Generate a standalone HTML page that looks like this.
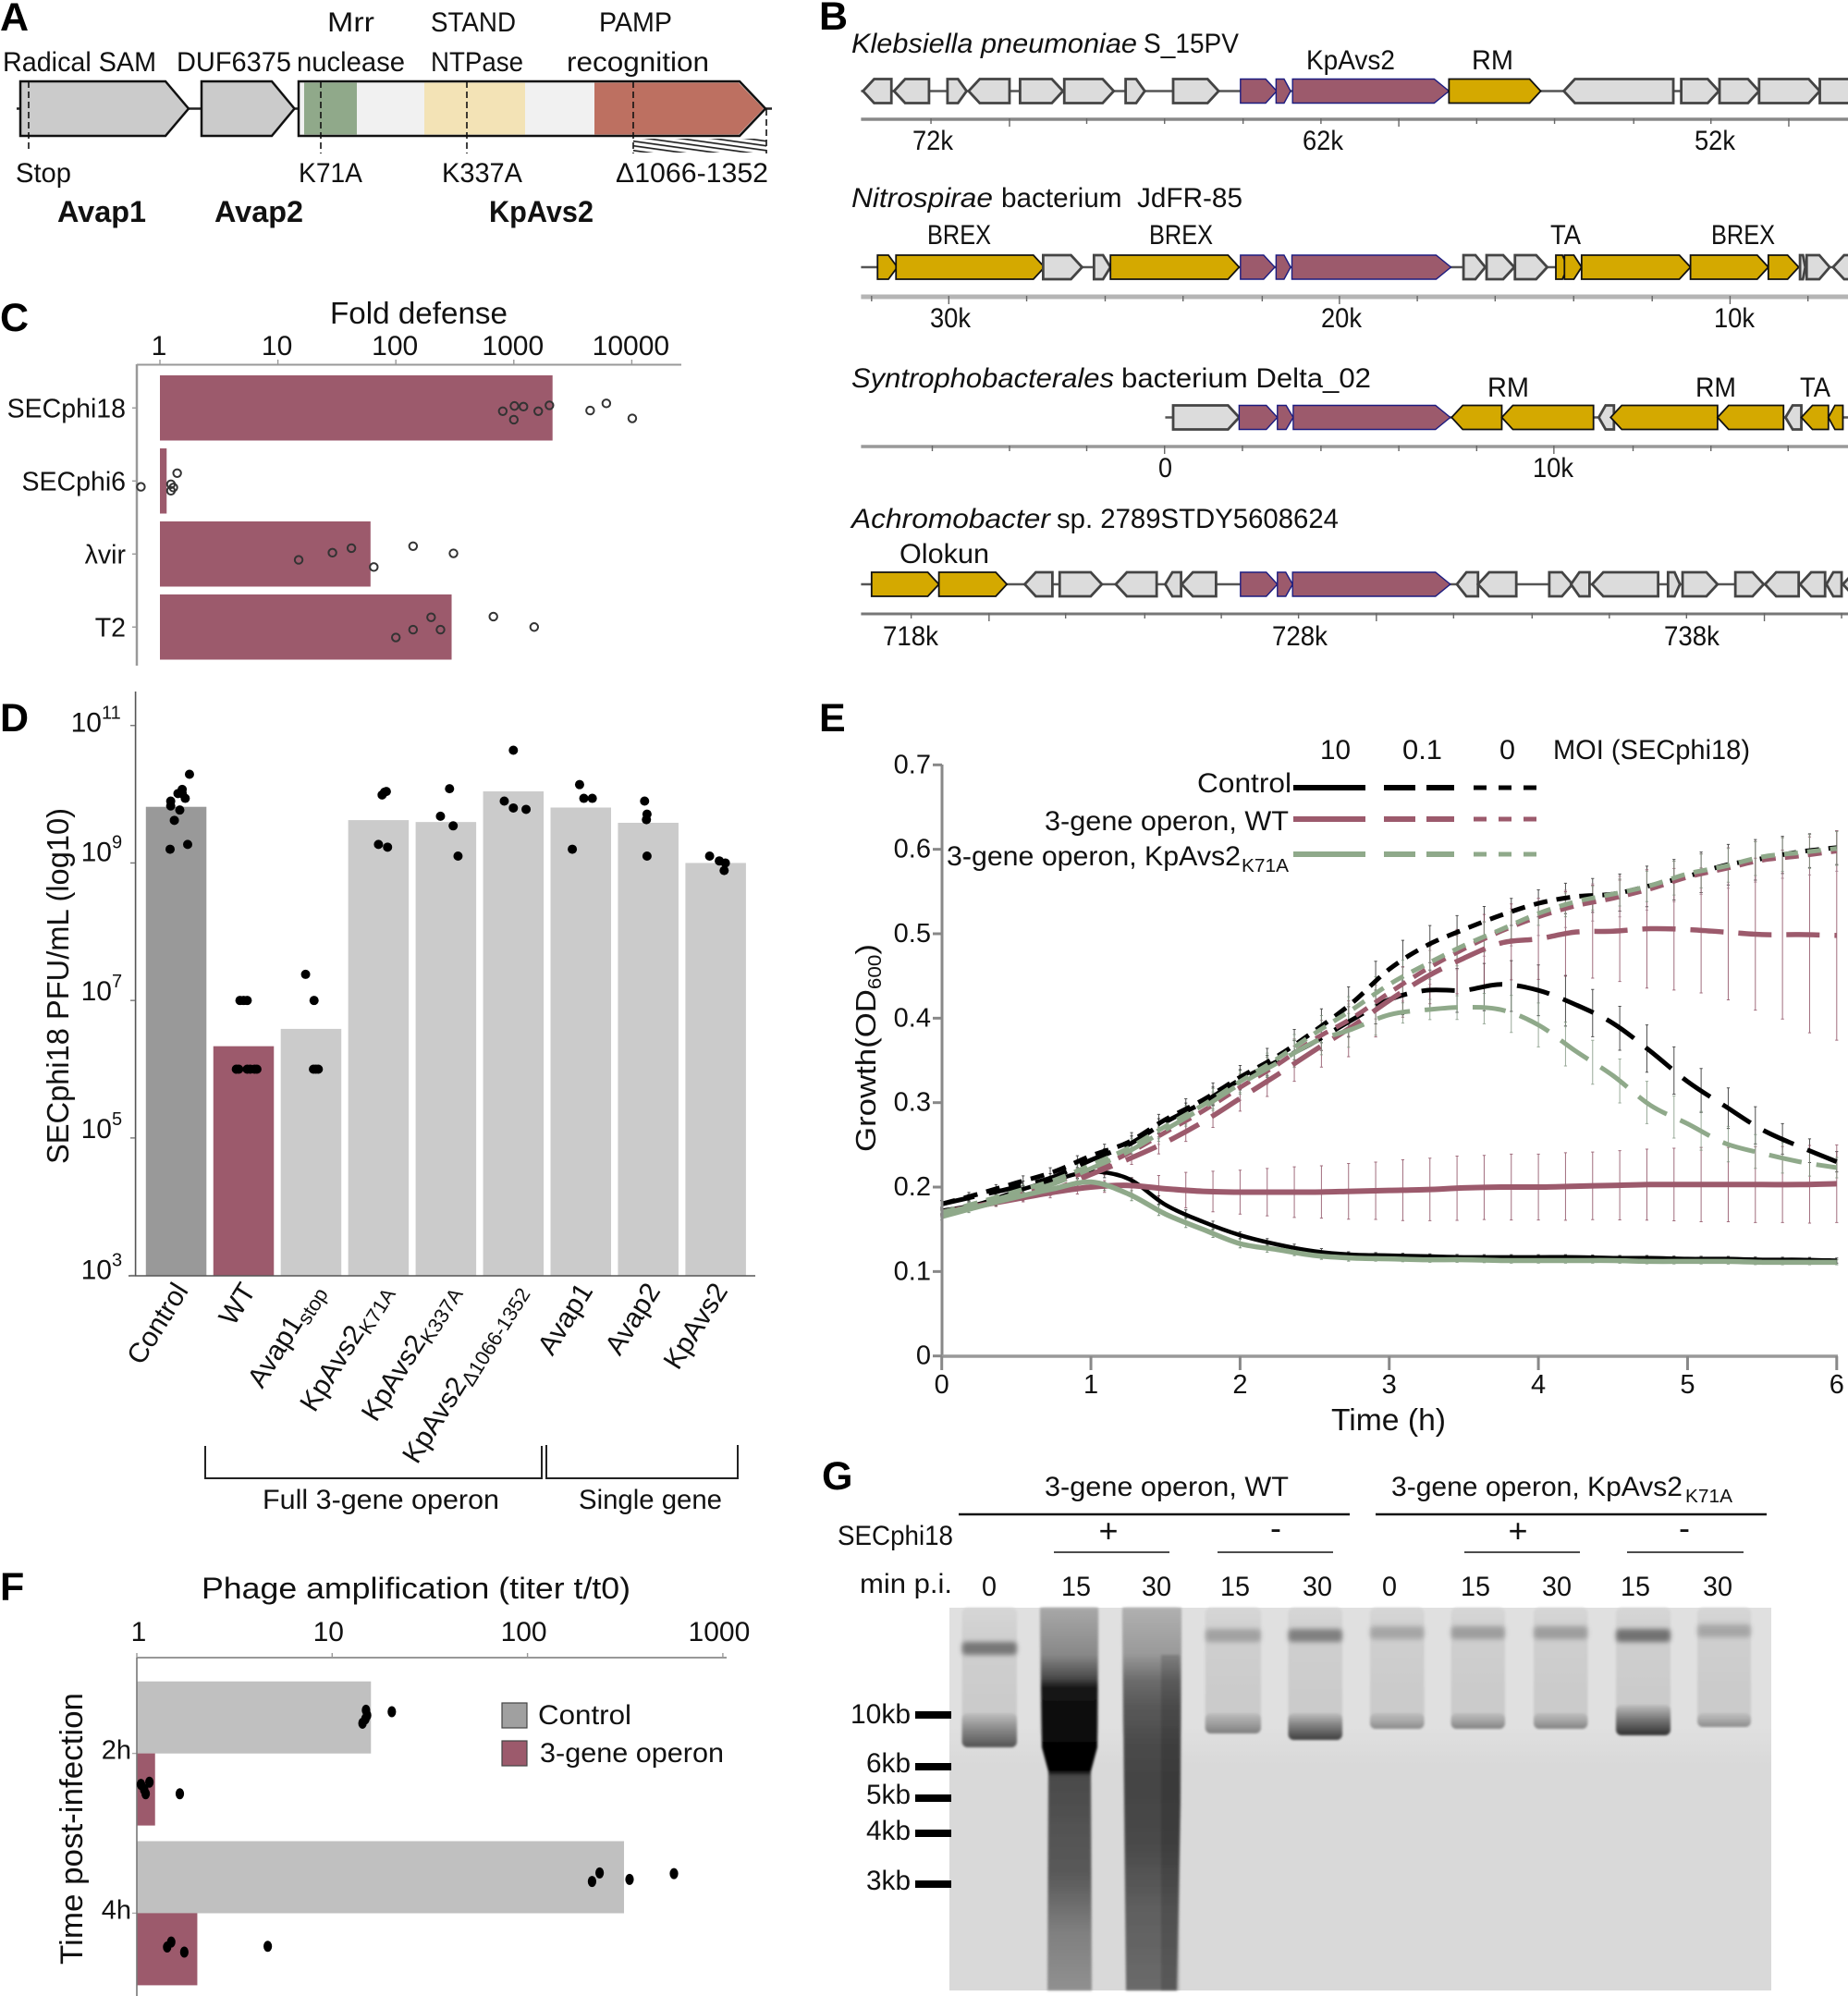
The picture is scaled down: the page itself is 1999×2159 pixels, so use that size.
<!DOCTYPE html>
<html lang="en">
<head>
<meta charset="utf-8">
<title>KpAvs2 defense figure</title>
<style>
html,body{margin:0;padding:0;background:#fff;}
svg{display:block;position:absolute;left:0;top:0;}
text{font-family:"Liberation Sans",sans-serif;fill:#111;}
.t{font-size:30px;}
.bt{font-size:32px;font-weight:bold;}
.l{font-size:43px;font-weight:bold;fill:#000;}
.i{font-style:italic;}
</style>
</head>
<body>
<svg id="fig" xmlns="http://www.w3.org/2000/svg" width="1999" height="2159" viewBox="0 0 1999 2159">
<defs>
<filter id="blur1" x="-10%" y="-10%" width="120%" height="120%"><feGaussianBlur stdDeviation="1.4"/></filter>
<filter id="blur3" x="-20%" y="-100%" width="140%" height="300%"><feGaussianBlur stdDeviation="2.6"/></filter>
<pattern id="hatch" width="12" height="5" patternUnits="userSpaceOnUse" patternTransform="rotate(8)"><rect width="12" height="1.7" fill="#222"/></pattern>
<linearGradient id="gelTop" x1="0" y1="0" x2="0" y2="1">
<stop offset="0" stop-color="#e0e0e0"/><stop offset=".75" stop-color="#e0e0e0"/><stop offset="1" stop-color="#d9d9d9"/>
</linearGradient>
<linearGradient id="laneBody" x1="0" y1="0" x2="0" y2="1">
<stop offset="0" stop-color="#d6d6d6"/><stop offset=".22" stop-color="#cfcfcf"/><stop offset=".7" stop-color="#cbcbcb"/><stop offset=".88" stop-color="#cbcbcb"/><stop offset="1" stop-color="#d9d9d9"/>
</linearGradient>
<linearGradient id="smear15" x1="0" y1="0" x2="0" y2="1">
<stop offset="0" stop-color="#a8a8a8"/><stop offset=".123" stop-color="#888"/><stop offset=".184" stop-color="#4a4a4a"/><stop offset=".21" stop-color="#141414"/><stop offset=".317" stop-color="#0c0c0c"/><stop offset=".39" stop-color="#000"/><stop offset=".425" stop-color="#000"/><stop offset=".44" stop-color="#4a4a4a"/><stop offset=".7" stop-color="#5a5a5a"/><stop offset=".85" stop-color="#808080"/><stop offset="1" stop-color="#909090"/>
</linearGradient>
<linearGradient id="smear30" x1="0" y1="0" x2="0" y2="1">
<stop offset="0" stop-color="#b0b0b0"/><stop offset=".12" stop-color="#9a9a9a"/><stop offset=".19" stop-color="#6c6c6c"/><stop offset=".25" stop-color="#5a5a5a"/><stop offset=".36" stop-color="#4a4a4a"/><stop offset=".45" stop-color="#444"/><stop offset=".6" stop-color="#484848"/><stop offset=".8" stop-color="#606060"/><stop offset="1" stop-color="#6a6a6a"/>
</linearGradient>
</defs>

<g>
<text class="l" x="0" y="33">A</text>
<line x1="18" y1="117.5" x2="835" y2="117.5" stroke="#222" stroke-width="2.5"/>
<polygon points="22,88 179,88 204,117.5 179,147 22,147" fill="#cbcbcb" stroke="#111" stroke-width="2.5"/>
<polygon points="218,88 294,88 318.5,117.5 294,147 218,147" fill="#cbcbcb" stroke="#111" stroke-width="2.5"/>
<polygon points="323,88 800,88 828,117.5 800,147 323,147" fill="#f1f1f1" stroke="#111" stroke-width="2.5"/>
<rect x="329" y="89.5" width="57" height="56" fill="#90a98a"/>
<rect x="459" y="89.5" width="109" height="56" fill="#f3e3b6"/>
<polygon points="643,89.5 799,89.5 826,117.5 799,145.5 643,145.5" fill="#bd7061"/>
<g stroke="#111" stroke-width="1.6" stroke-dasharray="7 4">
<line x1="31" y1="88" x2="31" y2="163"/>
<line x1="347" y1="88" x2="347" y2="166"/>
<line x1="505" y1="88" x2="505" y2="166"/>
<line x1="685" y1="88" x2="685" y2="166"/>
<line x1="829" y1="118" x2="829" y2="166"/>
</g>
<rect x="685" y="150" width="144" height="15" fill="url(#hatch)"/>
<text class="t" x="354" y="34" textLength="51" lengthAdjust="spacingAndGlyphs">Mrr</text>
<text class="t" x="466" y="34" textLength="92" lengthAdjust="spacingAndGlyphs">STAND</text>
<text class="t" x="648" y="34" textLength="79" lengthAdjust="spacingAndGlyphs">PAMP</text>
<text class="t" x="3" y="77" textLength="166" lengthAdjust="spacingAndGlyphs">Radical SAM</text>
<text class="t" x="191" y="77" textLength="124" lengthAdjust="spacingAndGlyphs">DUF6375</text>
<text class="t" x="321" y="77" textLength="117" lengthAdjust="spacingAndGlyphs">nuclease</text>
<text class="t" x="466" y="77" textLength="100" lengthAdjust="spacingAndGlyphs">NTPase</text>
<text class="t" x="613" y="77" textLength="154" lengthAdjust="spacingAndGlyphs">recognition</text>
<text class="t" x="17" y="197" textLength="60" lengthAdjust="spacingAndGlyphs">Stop</text>
<text class="t" x="323" y="197" textLength="69" lengthAdjust="spacingAndGlyphs">K71A</text>
<text class="t" x="478" y="197" textLength="87" lengthAdjust="spacingAndGlyphs">K337A</text>
<text class="t" x="666" y="197" textLength="165" lengthAdjust="spacingAndGlyphs">Δ1066-1352</text>
<text class="bt" x="62" y="240" textLength="96" lengthAdjust="spacingAndGlyphs">Avap1</text>
<text class="bt" x="232" y="240" textLength="96" lengthAdjust="spacingAndGlyphs">Avap2</text>
<text class="bt" x="529" y="240" textLength="113" lengthAdjust="spacingAndGlyphs">KpAvs2</text>
</g>

<g id="panelB">
<text class="l" x="886" y="32">B</text>
<text class="t i" x="921" y="57" textLength="309" lengthAdjust="spacingAndGlyphs">Klebsiella pneumoniae</text>
<text class="t" x="1237" y="57" textLength="103" lengthAdjust="spacingAndGlyphs">S_15PV</text>
<text class="t" x="1413" y="75" textLength="96" lengthAdjust="spacingAndGlyphs">KpAvs2</text>
<text class="t" x="1592" y="75" textLength="45" lengthAdjust="spacingAndGlyphs">RM</text>
<text class="t" x="987" y="162" textLength="44" lengthAdjust="spacingAndGlyphs">72k</text>
<text class="t" x="1409" y="162" textLength="44" lengthAdjust="spacingAndGlyphs">62k</text>
<text class="t" x="1833" y="162" textLength="44" lengthAdjust="spacingAndGlyphs">52k</text>

<text class="t i" x="921" y="224" textLength="153" lengthAdjust="spacingAndGlyphs">Nitrospirae</text>
<text class="t" x="1083" y="224" textLength="261" lengthAdjust="spacingAndGlyphs" xml:space="preserve">bacterium  JdFR-85</text>
<text class="t" x="1003" y="264" textLength="69" lengthAdjust="spacingAndGlyphs">BREX</text>
<text class="t" x="1243" y="264" textLength="69" lengthAdjust="spacingAndGlyphs">BREX</text>
<text class="t" x="1677" y="264" textLength="33" lengthAdjust="spacingAndGlyphs">TA</text>
<text class="t" x="1851" y="264" textLength="69" lengthAdjust="spacingAndGlyphs">BREX</text>
<text class="t" x="1006" y="354" textLength="44" lengthAdjust="spacingAndGlyphs">30k</text>
<text class="t" x="1429" y="354" textLength="44" lengthAdjust="spacingAndGlyphs">20k</text>
<text class="t" x="1854" y="354" textLength="44" lengthAdjust="spacingAndGlyphs">10k</text>

<text class="t i" x="921" y="419" textLength="284" lengthAdjust="spacingAndGlyphs">Syntrophobacterales</text>
<text class="t" x="1213" y="419" textLength="270" lengthAdjust="spacingAndGlyphs">bacterium Delta_02</text>
<text class="t" x="1609" y="429" textLength="45" lengthAdjust="spacingAndGlyphs">RM</text>
<text class="t" x="1834" y="429" textLength="44" lengthAdjust="spacingAndGlyphs">RM</text>
<text class="t" x="1947" y="429" textLength="33" lengthAdjust="spacingAndGlyphs">TA</text>
<text class="t" x="1253" y="516" textLength="15" lengthAdjust="spacingAndGlyphs">0</text>
<text class="t" x="1658" y="516" textLength="44" lengthAdjust="spacingAndGlyphs">10k</text>

<text class="t i" x="921" y="571" textLength="215" lengthAdjust="spacingAndGlyphs">Achromobacter</text>
<text class="t" x="1143" y="571" textLength="305" lengthAdjust="spacingAndGlyphs">sp. 2789STDY5608624</text>
<text class="t" x="973" y="609" textLength="97" lengthAdjust="spacingAndGlyphs">Olokun</text>
<text class="t" x="955" y="698" textLength="60" lengthAdjust="spacingAndGlyphs">718k</text>
<text class="t" x="1376" y="698" textLength="60" lengthAdjust="spacingAndGlyphs">728k</text>
<text class="t" x="1800" y="698" textLength="60" lengthAdjust="spacingAndGlyphs">738k</text>
</g>

<g id="panelC">
<text class="l" x="0" y="358">C</text>
<text x="357" y="350" font-size="33" textLength="192" lengthAdjust="spacingAndGlyphs">Fold defense</text>
</g>

<g id="panelD">
<text class="l" x="0" y="791">D</text>
<text transform="translate(74,1259) rotate(-90)" font-size="33" textLength="385" lengthAdjust="spacingAndGlyphs">SECphi18 PFU/mL (log10)</text>
<path d="M222,1564V1599H586V1564" fill="none" stroke="#222" stroke-width="2"/>
<path d="M591,1563V1599H798V1563" fill="none" stroke="#222" stroke-width="2"/>
<text x="284" y="1632" font-size="30" textLength="256" lengthAdjust="spacingAndGlyphs">Full 3-gene operon</text>
<text x="626" y="1632" font-size="30" textLength="155" lengthAdjust="spacingAndGlyphs">Single gene</text>
</g>

<g id="panelE">
<text class="l" x="886" y="791">E</text>
<text transform="translate(947,1246) rotate(-90)" font-size="31" textLength="225" lengthAdjust="spacingAndGlyphs">Growth(OD<tspan font-size="20" dy="6">600</tspan><tspan dy="-6">)</tspan></text>
<text x="1440" y="1547" font-size="33" textLength="124" lengthAdjust="spacingAndGlyphs">Time (h)</text>
<text class="t" x="1428" y="821" textLength="33" lengthAdjust="spacingAndGlyphs">10</text>
<text class="t" x="1517" y="821" textLength="43" lengthAdjust="spacingAndGlyphs">0.1</text>
<text class="t" x="1622" y="821" textLength="17" lengthAdjust="spacingAndGlyphs">0</text>
<text class="t" x="1680" y="821" textLength="213" lengthAdjust="spacingAndGlyphs">MOI (SECphi18)</text>
<text class="t" x="1295" y="857" textLength="102" lengthAdjust="spacingAndGlyphs">Control</text>
<text class="t" x="1130" y="898" textLength="264" lengthAdjust="spacingAndGlyphs">3-gene operon, WT</text>
<text class="t" x="1024" y="936" textLength="318" lengthAdjust="spacingAndGlyphs">3-gene operon, KpAvs2</text>
<text x="1343" y="943" font-size="20" textLength="51" lengthAdjust="spacingAndGlyphs">K71A</text>
<g fill="none">
<g stroke="#000">
<line x1="1399" y1="852" x2="1477" y2="852" stroke-width="6"/>
<line x1="1497" y1="852" x2="1573" y2="852" stroke-width="6" stroke-dasharray="34 12 30 0"/>
<line x1="1594" y1="852" x2="1666" y2="852" stroke-width="5" stroke-dasharray="14 13"/>
</g>
<g stroke="#9c5a6c">
<line x1="1399" y1="886" x2="1477" y2="886" stroke-width="6"/>
<line x1="1497" y1="886" x2="1573" y2="886" stroke-width="6" stroke-dasharray="34 12 30 0"/>
<line x1="1594" y1="886" x2="1666" y2="886" stroke-width="5" stroke-dasharray="14 13"/>
</g>
<g stroke="#8fa98a">
<line x1="1399" y1="924" x2="1477" y2="924" stroke-width="6"/>
<line x1="1497" y1="924" x2="1573" y2="924" stroke-width="6" stroke-dasharray="34 12 30 0"/>
<line x1="1594" y1="924" x2="1666" y2="924" stroke-width="5" stroke-dasharray="14 13"/>
</g>
</g>
</g>

<g id="panelF">
<text class="l" x="0" y="1731">F</text>
<text x="218" y="1729" font-size="32" textLength="464" lengthAdjust="spacingAndGlyphs">Phage amplification (titer t/t0)</text>
<text transform="translate(89,2125) rotate(-90)" font-size="34" textLength="294" lengthAdjust="spacingAndGlyphs">Time post-infection</text>
<rect x="543" y="1842" width="27" height="27" fill="#a0a0a0" stroke="#444" stroke-width="1.2"/>
<text x="582" y="1865" font-size="30" textLength="101" lengthAdjust="spacingAndGlyphs">Control</text>
<rect x="543" y="1883" width="27" height="27" fill="#9c5a6c" stroke="#444" stroke-width="1.2"/>
<text x="584" y="1906" font-size="30" textLength="199" lengthAdjust="spacingAndGlyphs">3-gene operon</text>
</g>

<g id="panelG">
<text class="l" x="889" y="1611">G</text>
<text class="t" x="1130" y="1618" textLength="264" lengthAdjust="spacingAndGlyphs">3-gene operon, WT</text>
<text class="t" x="1505" y="1618" textLength="315" lengthAdjust="spacingAndGlyphs">3-gene operon, KpAvs2</text>
<text x="1823" y="1625" font-size="20" textLength="51" lengthAdjust="spacingAndGlyphs">K71A</text>
<line x1="1037" y1="1638" x2="1460" y2="1638" stroke="#111" stroke-width="2.5"/>
<line x1="1488" y1="1638" x2="1911" y2="1638" stroke="#111" stroke-width="2.5"/>
<text class="t" x="906" y="1671" textLength="125" lengthAdjust="spacingAndGlyphs">SECphi18</text>
<text x="1199" y="1668" font-size="36" text-anchor="middle">+</text>
<text x="1380" y="1665" font-size="36" text-anchor="middle">-</text>
<text x="1642" y="1668" font-size="36" text-anchor="middle">+</text>
<text x="1822" y="1665" font-size="36" text-anchor="middle">-</text>
<g stroke="#111" stroke-width="1.6">
<line x1="1140" y1="1679" x2="1265" y2="1679"/>
<line x1="1317" y1="1679" x2="1442" y2="1679"/>
<line x1="1584" y1="1679" x2="1709" y2="1679"/>
<line x1="1760" y1="1679" x2="1886" y2="1679"/>
</g>
<text class="t" x="930" y="1723" textLength="100" lengthAdjust="spacingAndGlyphs">min p.i.</text>
<text class="t" x="1062" y="1726" textLength="16" lengthAdjust="spacingAndGlyphs">0</text>
<text class="t" x="1148" y="1726" textLength="32" lengthAdjust="spacingAndGlyphs">15</text>
<text class="t" x="1235" y="1726" textLength="32" lengthAdjust="spacingAndGlyphs">30</text>
<text class="t" x="1320" y="1726" textLength="32" lengthAdjust="spacingAndGlyphs">15</text>
<text class="t" x="1409" y="1726" textLength="32" lengthAdjust="spacingAndGlyphs">30</text>
<text class="t" x="1495" y="1726" textLength="16" lengthAdjust="spacingAndGlyphs">0</text>
<text class="t" x="1580" y="1726" textLength="32" lengthAdjust="spacingAndGlyphs">15</text>
<text class="t" x="1668" y="1726" textLength="32" lengthAdjust="spacingAndGlyphs">30</text>
<text class="t" x="1753" y="1726" textLength="32" lengthAdjust="spacingAndGlyphs">15</text>
<text class="t" x="1842" y="1726" textLength="32" lengthAdjust="spacingAndGlyphs">30</text>
<rect x="1027" y="1739" width="889" height="414" fill="#d9d9d9"/>
<rect x="1027" y="1739" width="889" height="170" fill="url(#gelTop)"/>
<g id="gelLanes"></g>
<polygon points="1125,1739 1188,1739 1187,1890 1180,1916 1181,2153 1133,2153 1134,1916 1127,1890" fill="url(#smear15)" filter="url(#blur1)"/>
<polygon points="1214,1739 1278,1739 1277,1950 1273,2153 1218,2153 1216,1950" fill="url(#smear30)" filter="url(#blur1)"/>
<rect x="1256" y="1790" width="20" height="363" fill="#000" fill-opacity=".16" filter="url(#blur1)"/>
<g fill="#000">
<rect x="990" y="1851" width="39" height="8"/>
<rect x="990" y="1907" width="39" height="8"/>
<rect x="990" y="1941" width="39" height="8"/>
<rect x="990" y="1979" width="39" height="8"/>
<rect x="990" y="2034" width="39" height="8"/>
</g>
<text class="t" x="920" y="1864" textLength="65" lengthAdjust="spacingAndGlyphs">10kb</text>
<text class="t" x="937" y="1917" textLength="48" lengthAdjust="spacingAndGlyphs">6kb</text>
<text class="t" x="937" y="1951" textLength="48" lengthAdjust="spacingAndGlyphs">5kb</text>
<text class="t" x="937" y="1990" textLength="48" lengthAdjust="spacingAndGlyphs">4kb</text>
<text class="t" x="937" y="2044" textLength="48" lengthAdjust="spacingAndGlyphs">3kb</text>
</g>
</svg>

<script>
/* ---------- Panel C data ---------- */
const cCategories = ["SECphi18", "SECphi6", "λvir", "T2"];
const cBarValues = [2130, 1.14, 61, 297];
const cTickValues = [1, 10, 100, 1000, 10000];
const cTickLabels = ["1", "10", "100", "1000", "10000"];
const cPointsSec18 = [806, 1012, 1207, 1611, 2004, 1000, 4436, 6085, 10100];
const cJitterSec18 = [.05, -.03, -.02, .05, -.04, .18, .04, -.07, .16];
const cPointsSec6 = [1.4, 0.69, 1.24, 1.3, 1.24];
const cJitterSec6 = [-.12, .09, .05, .10, .15];
const cPointsLambda = [15, 29, 42, 65, 140, 308];
const cJitterLambda = [.09, -.02, -.09, .20, -.12, -.01];
const cPointsT2 = [100, 140, 199, 239, 671, 1488];
const cJitterT2 = [.16, .04, -.15, .04, -.16, 0];

/* ---------- Panel D data ---------- */
const dCategories = ["Control", "WT", "Avap1", "KpAvs2", "KpAvs2", "KpAvs2", "Avap1", "Avap2", "KpAvs2"];
const dSubscripts = ["", "", "stop", "K71A", "K337A", "Δ1066-1352", "", "", ""];
const dBarValues = [6.56e9, 2.16e6, 3.86e6, 4.2e9, 3.94e9, 1.1e10, 6.4e9, 3.84e9, 1e9];
const dTickExponents = [11, 9, 7, 5, 3];
const dLogControl = [10.29, 10.07, 10.01, 10.01, 9.94, 9.90, 9.83, 9.77, 9.62, 9.27, 9.20];
const dJitControl = [.22, .10, .03, .10, .15, -.09, -.09, .06, -.03, .19, -.10];
const dLogWT = [7, 7, 7, 6, 6, 6, 6, 6, 6];
const dJitWT = [-.06, 0, .06, -.12, -.08, .06, .11, .18, .22];
const dLogStop = [7.38, 7, 6, 6, 6];
const dJitStop = [-.09, .05, .04, .12, .08];
const dLogK71A = [9.99, 10.03, 10.04, 9.27, 9.23];
const dJitK71A = [.06, .10, .13, 0, .15];
const dLogK337A = [10.08, 9.68, 9.54, 9.10];
const dJitK337A = [.06, -.09, .12, .20];
const dLogDelta = [10.64, 9.90, 9.80, 9.78];
const dJitDelta = [0, -.15, 0, .21];
const dLogAvap1 = [10.14, 9.94, 9.94, 9.20];
const dJitAvap1 = [-.02, .05, .19, -.14];
const dLogAvap2 = [9.90, 9.71, 9.63, 9.10];
const dJitAvap2 = [-.06, -.02, -.03, -.02];
const dLogKpAvs2 = [9.10, 9.03, 9.00, 8.89];
const dJitKpAvs2 = [-.10, .06, .16, .14];

/* ---------- Panel E data ---------- */
const eTimes = [0,.25,.5,.75,1,1.25,1.5,1.75,2,2.25,2.5,2.75,3,3.25,3.5,3.75,4,4.25,4.5,4.75,5,5.25,5.5,5.75,6];
const eXTicks = [0,1,2,3,4,5,6];
const eYTicks = [0,.1,.2,.3,.4,.5,.6,.7];
const eControl10 = [.172,.180,.195,.208,.218,.210,.179,.159,.143,.132,.124,.120,.119,.118,.117,.117,.117,.117,.116,.116,.115,.115,.114,.114,.113];
const eControl01 = [.180,.190,.200,.212,.232,.250,.277,.300,.327,.349,.372,.398,.422,.433,.433,.440,.433,.416,.394,.361,.325,.296,.268,.248,.230];
const eControl0 = [.180,.192,.205,.218,.237,.253,.280,.303,.330,.355,.385,.418,.458,.486,.505,.522,.536,.544,.547,.557,.568,.581,.589,.597,.602];
const eWT10 = [.170,.178,.186,.194,.200,.202,.198,.195,.194,.194,.194,.195,.196,.197,.199,.200,.200,.201,.202,.203,.203,.203,.203,.203,.204];
const eWT01 = [.170,.178,.187,.197,.215,.233,.253,.277,.305,.333,.362,.390,.421,.449,.471,.489,.494,.502,.503,.506,.505,.502,.499,.499,.498];
const eWT0 = [.170,.180,.192,.205,.220,.240,.265,.290,.318,.345,.375,.400,.430,.458,.482,.503,.520,.533,.542,.553,.567,.577,.587,.592,.598];
const eK7110 = [.165,.177,.188,.198,.206,.192,.168,.150,.133,.126,.119,.116,.115,.114,.114,.113,.113,.113,.113,.112,.112,.112,.111,.111,.111];
const eK7101 = [.168,.180,.192,.204,.222,.242,.268,.294,.322,.347,.372,.387,.404,.410,.413,.410,.392,.361,.332,.297,.275,.252,.240,.230,.223];
const eK710 = [.170,.182,.195,.208,.226,.246,.272,.297,.325,.352,.382,.410,.440,.464,.486,.505,.524,.538,.547,.557,.571,.580,.591,.596,.601];
const eErrControl10 = [.004,.004,.004,.004,.004,.004,.004,.004,.005,.005,.005,.004,.004,.004,.004,.003,.003,.003,.003,.003,.003,.003,.003,.003,.003,.003,.003,.003,.003,.003,.003,.003,.003,.003];
const eErrControl01 = [.004,.004,.005,.005,.005,.006,.007,.008,.009,.010,.011,.012,.013,.014,.015,.018,.020,.022,.024,.026,.028,.030,.030,.030,.028,.026,.028,.028,.026,.024,.022,.018,.014,.012];
const eErrControl0 = [.004,.005,.005,.006,.006,.007,.008,.009,.011,.012,.013,.014,.016,.018,.020,.022,.024,.024,.022,.020,.018,.016,.016,.018,.020,.022,.024,.024,.024,.024,.024,.022,.020,.020];
const eErrWT10 = [.003,.004,.004,.005,.006,.006,.007,.009,.015,.021,.024,.026,.028,.030,.031,.033,.034,.036,.037,.038,.038,.039,.039,.040,.040,.041,.042,.043,.044,.044,.045,.045,.046,.046];
const eErrWT01 = [.004,.004,.005,.005,.006,.006,.007,.008,.010,.012,.014,.015,.018,.021,.025,.033,.032,.030,.034,.038,.042,.045,.048,.050,.055,.060,.070,.072,.074,.080,.090,.100,.116,.124];
const eErrWT0 = [.004,.004,.005,.005,.006,.007,.008,.009,.010,.012,.013,.015,.016,.017,.018,.019,.020,.020,.020,.020,.020,.022,.022,.022,.022,.024,.024,.024,.024,.024,.024,.024,.024,.024];
const eErrK7110 = [.004,.004,.004,.004,.004,.004,.005,.006,.006,.006,.005,.005,.005,.004,.004,.004,.003,.003,.003,.003,.003,.003,.003,.003,.003,.003,.003,.003,.003,.003,.003,.003,.003,.003];
const eErrK7101 = [.004,.004,.005,.005,.005,.006,.007,.008,.009,.010,.011,.012,.014,.016,.018,.020,.018,.012,.012,.014,.018,.022,.026,.026,.026,.026,.025,.025,.023,.021,.020,.018,.015,.012];
const eErrK710 = [.004,.004,.005,.005,.006,.007,.008,.009,.010,.011,.012,.013,.014,.015,.016,.018,.020,.020,.020,.020,.018,.016,.014,.014,.014,.016,.018,.020,.020,.020,.020,.020,.020,.020];

/* ---------- Panel F data ---------- */
const fCategories = ["2h", "4h"];
const fTickValues = [1, 10, 100, 1000];
const fTickLabels = ["1", "10", "100", "1000"];
const fControlBars = [15.8, 312];
const fOperonBars = [1.24, 2.04];
const fControl2h = [14.3, 14.9, 15.1, 14.8, 20.2];
const fJitControl2h = [.08, -.10, -.03, .02, -.08];
const fOperon2h = [1.05, 1.16, 1.11, 1.09, 1.66];
const fJitOperon2h = [-.07, -.10, .06, 0, .06];
const fControl4h = [214, 234, 333, 562];
const fJitControl4h = [.06, -.06, .03, -.05];
const fOperon4h = [1.43, 1.50, 1.75, 4.68];
const fJitOperon4h = [-.03, -.10, .04, -.04];

/* ---------- Panel B gene maps, in map units along each contig ---------- */
const genesKlebsiella = [[75,118,'L','g'],[122,175,'L','g'],[203,232,'R','g'],[235,297,'L','g'],[313,378,'R','g'],[380,455,'R','g'],[473,502,'R','g'],[545,614,'R','g'],[647,702,'R','p'],[701,723,'R','p'],[726,963,'R','p'],[963,1102,'R','y'],[1137,1303,'L','g'],[1315,1372,'R','g'],[1373,1433,'R','g'],[1433,1525,'R','g'],[1525,1600,'R','g']];
const genesNitrospirae = [[97,127,'R','y'],[125,350,'R','y'],[348,407,'R','g'],[425,450,'R','g'],[450,645,'R','y'],[647,699,'R','p'],[701,723,'R','p'],[725,966,'R','p'],[985,1018,'R','g'],[1020,1062,'R','g'],[1063,1112,'R','g'],[1125,1143,'R','y'],[1138,1164,'R','y'],[1164,1329,'R','y'],[1329,1447,'R','y'],[1447,1493,'R','y'],[1495,1503,'R','g'],[1505,1540,'R','g'],[1545,1600,'L','g']];
const genesSyntrophobacterales = [[545,645,'R','g'],[645,703,'R','p'],[703,727,'R','p'],[727,965,'R','p'],[967,1043,'L','y'],[1043,1182,'L','y'],[1190,1213,'L','g'],[1208,1370,'L','y'],[1370,1470,'L','y'],[1473,1497,'L','g'],[1497,1538,'L','y'],[1538,1560,'L','y']];
const genesAchromobacter = [[88,190,'R','y'],[190,293,'R','y'],[320,362,'L','g'],[373,437,'R','g'],[458,520,'L','g'],[533,557,'L','g'],[558,610,'L','g'],[647,703,'R','p'],[703,726,'R','p'],[726,965,'R','p'],[975,1007,'L','g'],[1007,1065,'L','g'],[1115,1150,'R','g'],[1148,1176,'L','g'],[1180,1280,'L','g'],[1295,1313,'R','g'],[1317,1370,'R','g'],[1397,1440,'R','g'],[1442,1493,'L','g'],[1495,1533,'L','g'],[1535,1558,'L','g'],[1560,1600,'L','g']];
const rulerKlebsiella = [178,297,414,532,651,769,887,1005,1123,1243,1360,1478];
const rulerNitrospirae = [88,205,323,442,560,680,797,915,1033,1152,1271,1389,1507];
const rulerSyntrophobacterales = [180,297,414,532,650,769,887,1005,1122,1242,1360,1477];
const rulerAchromobacter = [148,266,382,502,618,735,853,970,1089,1206,1323,1441,1558];

const NS = 'http://www.w3.org/2000/svg';
const PURPLE = '#9c5a6c', GREEN = '#8fa98a';
function mk(tag, attrs, parent, name) {
  const e = document.createElementNS(NS, tag);
  for (const k in attrs) e.setAttribute(k, attrs[k]);
  
  
  parent.appendChild(e);
  return e;
}
function label(parent, x, y, str, size, anchor, name) {
  const e = mk('text', {x: x, y: y, 'font-size': size, 'text-anchor': anchor}, parent, name);
  e.textContent = str;
  return e;
}
const lg = Math.log10;

/* Panel B */
(function () {
  const g = document.getElementById('panelB');
  const mapX = z => 880 + z / 1.401;
  const styles = {
    g: {fill: '#dcdcdc', stroke: '#444', sw: 2.8},
    y: {fill: '#d4a900', stroke: '#111', sw: 1.8},
    p: {fill: PURPLE, stroke: '#1c1c80', sw: 1.4}
  };
  function row(genes, ticks, longTicks, cy, rulerY, start, kind, rulerColor, rulerWidth) {
    mk('line', {x1: mapX(start), y1: cy, x2: 1999, y2: cy, stroke: '#555', 'stroke-width': 2.6}, g, kind + '-backbone');
    genes.forEach(d => {
      const s = styles[d[3]];
      const a = mapX(d[0]), b = Math.min(mapX(d[1]), 2030), w = b - a;
      const head = Math.min(w * 0.45, d[3] === 'p' && w > 100 ? 16 : 12);
      const top = cy - 13, bot = cy + 13;
      const pts = d[2] === 'R'
        ? [[a, top], [b - head, top], [b, cy], [b - head, bot], [a, bot]]
        : [[b, top], [a + head, top], [a, cy], [a + head, bot], [b, bot]];
      mk('polygon', {points: pts.map(p => p.join(',')).join(' '), fill: s.fill, stroke: s.stroke, 'stroke-width': s.sw}, g, kind + '-gene');
    });
    mk('line', {x1: mapX(72), y1: rulerY, x2: 1999, y2: rulerY, stroke: rulerColor, 'stroke-width': rulerWidth}, g, kind + '-ruler');
    ticks.forEach(t => {
      const long = longTicks.indexOf(t) >= 0;
      mk('line', {x1: mapX(t), y1: rulerY - 1, x2: mapX(t), y2: rulerY + (long ? 8 : 5), stroke: '#666', 'stroke-width': 1.4}, g, kind + '-ruler-tick');
    });
  }
  row(genesKlebsiella, rulerKlebsiella, [297, 887, 1478], 98.5, 129, 72, 'klebsiella', '#888', 3.5);
  row(genesNitrospirae, rulerNitrospirae, [205, 797, 1389], 289, 321, 72, 'nitrospirae', '#b5b5b5', 5);
  row(genesSyntrophobacterales, rulerSyntrophobacterales, [532, 1122], 451.5, 483, 533, 'syntrophobacterales', '#999', 3.5);
  row(genesAchromobacter, rulerAchromobacter, [266, 853, 1441], 632, 664, 72, 'achromobacter', '#777', 3);
})();

/* Panel C */
(function () {
  const g = document.getElementById('panelC');
  const x = v => 173 + 127.6 * lg(v);
  const bandTop = i => 406 + i * 79;
  const bandH = 70.5;
  const y = i => bandTop(i) + bandH / 2;
  mk('line', {x1: 148, y1: 394.5, x2: 737, y2: 394.5, stroke: '#999', 'stroke-width': 2}, g, 'x-axis-line');
  mk('line', {x1: 148, y1: 394, x2: 148, y2: 720, stroke: '#999', 'stroke-width': 2.5}, g, 'y-axis-line');
  cTickValues.forEach((v, i) => {
    mk('line', {x1: x(v), y1: 389, x2: x(v), y2: 394, stroke: '#999', 'stroke-width': 1.4}, g, 'x-tick');
    label(g, x(v) - 1, 384, cTickLabels[i], 30, 'middle', 'x-tick-label');
  });
  cCategories.forEach((c, i) => {
    mk('rect', {x: x(1), y: bandTop(i), width: x(cBarValues[i]) - x(1), height: bandH, fill: PURPLE}, g, 'bar-' + c);
    mk('line', {x1: 143, y1: y(i), x2: 148, y2: y(i), stroke: '#999', 'stroke-width': 1.4}, g, 'y-tick');
    label(g, 136, y(i) + 10, c, 28.5, 'end', 'y-tick-label');
  });
  [[cPointsSec18, cJitterSec18], [cPointsSec6, cJitterSec6], [cPointsLambda, cJitterLambda], [cPointsT2, cJitterT2]].forEach((s, i) => {
    s[0].forEach((v, k) => {
      mk('circle', {cx: x(v), cy: y(i) + s[1][k] * bandH, r: 4.2, fill: 'none', stroke: '#333', 'stroke-width': 2}, g, 'point-' + cCategories[i]);
    });
  });
})();

/* Panel D */
(function () {
  const g = document.getElementById('panelD');
  const y = logv => 1379.6 - 74.36 * (logv - 3);
  const left = i => 157.8 + i * 72.95;
  const W = 65.5;
  const fills = ['#999', PURPLE, '#cbcbcb', '#cbcbcb', '#cbcbcb', '#cbcbcb', '#cbcbcb', '#cbcbcb', '#cbcbcb'];
  dCategories.forEach((c, i) => {
    const tp = y(lg(dBarValues[i]));
    mk('rect', {x: left(i), y: tp, width: W, height: 1379.6 - tp, fill: fills[i]}, g, 'bar-' + c + dSubscripts[i]);
    const t = mk('text', {transform: 'translate(' + (left(i) + W / 2 + 14) + ',1396) rotate(-58)', 'font-size': 30, 'text-anchor': 'end'}, g, 'x-tick-label');
    t.textContent = c;
    if (dSubscripts[i]) {
      const s = mk('tspan', {'font-size': 22, dy: 6}, t, 'x-tick-label-subscript');
      s.textContent = dSubscripts[i];
    }
  });
  mk('line', {x1: 146.6, y1: 748, x2: 146.6, y2: 1380, stroke: '#555', 'stroke-width': 1.6}, g, 'y-axis-line');
  mk('line', {x1: 139, y1: 1380, x2: 817, y2: 1380, stroke: '#555', 'stroke-width': 1.6}, g, 'x-axis-line');
  dTickExponents.forEach(e => {
    const yy = y(e);
    const labelY = e === 11 ? yy + 7 : e === 9 ? yy - 2 : e === 3 ? yy + 4 : yy;
    mk('line', {x1: 141, y1: yy, x2: 146, y2: yy, stroke: '#777', 'stroke-width': 1.4}, g, 'y-tick');
    const subX = e >= 10 ? 110 : 121;
    label(g, subX, labelY, '10', 30, 'end', 'y-tick-label');
    label(g, subX, labelY - 14, String(e), 20, 'start', 'y-tick-exponent');
  });
  [[dLogControl, dJitControl], [dLogWT, dJitWT], [dLogStop, dJitStop], [dLogK71A, dJitK71A], [dLogK337A, dJitK337A], [dLogDelta, dJitDelta], [dLogAvap1, dJitAvap1], [dLogAvap2, dJitAvap2], [dLogKpAvs2, dJitKpAvs2]].forEach((s, i) => {
    s[0].forEach((v, k) => {
      mk('circle', {cx: left(i) + W / 2 + s[1][k] * W, cy: y(v), r: 5, fill: '#000'}, g, 'point-' + dCategories[i] + dSubscripts[i]);
    });
  });
})();

/* Panel E */
(function () {
  const g = document.getElementById('panelE');
  const x = t => 1018.7 + 161.35 * t;
  const y = v => 1466.7 - 913.4 * v;
  const nErr = eErrWT10.length;
  function interp(vals, t) {
    for (let i = 0; i < eTimes.length - 1; i++) {
      if (t <= eTimes[i + 1]) {
        const f = (t - eTimes[i]) / (eTimes[i + 1] - eTimes[i]);
        return vals[i] + f * (vals[i + 1] - vals[i]);
      }
    }
    return vals[vals.length - 1];
  }
  const series = [
    {name: 'control-moi-10', v: eControl10, e: eErrControl10, c: '#000', ec: '#222', w: 4.5, d: ''},
    {name: 'control-moi-0.1', v: eControl01, e: eErrControl01, c: '#000', ec: '#222', w: 5, d: '36 16'},
    {name: 'control-moi-0', v: eControl0, e: eErrControl0, c: '#000', ec: '#222', w: 5, d: '15 10'},
    {name: 'wt-moi-10', v: eWT10, e: eErrWT10, c: PURPLE, ec: '#8a4a5e', w: 6, d: ''},
    {name: 'wt-moi-0.1', v: eWT01, e: eErrWT01, c: PURPLE, ec: '#8a4a5e', w: 5.5, d: '36 16'},
    {name: 'wt-moi-0', v: eWT0, e: eErrWT0, c: PURPLE, ec: '#a07a88', w: 5, d: '15 10'},
    {name: 'k71a-moi-10', v: eK7110, e: eErrK7110, c: GREEN, ec: '#5f7a5f', w: 5.5, d: ''},
    {name: 'k71a-moi-0.1', v: eK7101, e: eErrK7101, c: GREEN, ec: '#7f957f', w: 5, d: '36 16'},
    {name: 'k71a-moi-0', v: eK710, e: eErrK710, c: GREEN, ec: '#7f957f', w: 5, d: '15 10'}
  ];
  series.forEach(s => {
    for (let k = 0; k < nErr; k++) {
      const t = k * 6 / (nErr - 1);
      const c = interp(s.v, t), h = s.e[k], px = x(t);
      const d = 'M' + px + ',' + y(c + h) + 'V' + y(c - h) +
        'M' + (px - 1.6) + ',' + y(c + h) + 'h3.2M' + (px - 1.6) + ',' + y(c - h) + 'h3.2';
      mk('path', {d: d, stroke: s.ec, 'stroke-width': 1, fill: 'none', opacity: .8}, g, 'error-bar-' + s.name);
    }
  });
  series.forEach(s => {
    const pts = eTimes.map((t, i) => [x(t), y(s.v[i])]);
    let d = 'M' + pts[0][0] + ',' + pts[0][1];
    for (let i = 0; i < pts.length - 1; i++) {
      const p0 = pts[Math.max(i - 1, 0)], p1 = pts[i], p2 = pts[i + 1], p3 = pts[Math.min(i + 2, pts.length - 1)];
      d += 'C' + (p1[0] + (p2[0] - p0[0]) / 6) + ',' + (p1[1] + (p2[1] - p0[1]) / 6) + ' ' +
        (p2[0] - (p3[0] - p1[0]) / 6) + ',' + (p2[1] - (p3[1] - p1[1]) / 6) + ' ' + p2[0] + ',' + p2[1];
    }
    const attrs = {d: d, fill: 'none', stroke: s.c, 'stroke-width': s.w};
    if (s.d) attrs['stroke-dasharray'] = s.d;
    mk('path', attrs, g, 'line-' + s.name);
  });
  mk('line', {x1: 1019, y1: 827, x2: 1019, y2: 1468, stroke: '#888', 'stroke-width': 3}, g, 'y-axis-line');
  mk('line', {x1: 1019, y1: 1467, x2: 1988, y2: 1467, stroke: '#999', 'stroke-width': 3.5}, g, 'x-axis-line');
  eYTicks.forEach(v => {
    mk('line', {x1: 1009, y1: y(v), x2: 1019, y2: y(v), stroke: '#888', 'stroke-width': 3}, g, 'y-tick');
    label(g, 1007, y(v) + 9, String(v), 29, 'end', 'y-tick-label');
  });
  eXTicks.forEach(t => {
    mk('line', {x1: x(t), y1: 1467, x2: x(t), y2: 1482, stroke: '#888', 'stroke-width': 3}, g, 'x-tick');
    label(g, x(t), 1507, String(t), 29, 'middle', 'x-tick-label');
  });
})();

/* Panel F */
(function () {
  const g = document.getElementById('panelF');
  const x = v => 148 + 211.3 * lg(v);
  const H = 78;
  const yC = i => 1818.7 + i * 172.8;
  const yO = i => 1896.6 + i * 172.8;
  fCategories.forEach((c, i) => {
    mk('rect', {x: x(1), y: yC(i), width: x(fControlBars[i]) - x(1), height: H, fill: '#c0c0c0'}, g, 'bar-control-' + c);
    mk('rect', {x: x(1), y: yO(i), width: x(fOperonBars[i]) - x(1), height: H, fill: PURPLE}, g, 'bar-operon-' + c);
    mk('line', {x1: 143, y1: yO(i), x2: 148, y2: yO(i), stroke: '#aaa', 'stroke-width': 1.4}, g, 'y-tick');
    label(g, 142, yO(i) + 6, c, 29, 'end', 'y-tick-label');
  });
  mk('line', {x1: 148, y1: 1793, x2: 786, y2: 1793, stroke: '#777', 'stroke-width': 1.6}, g, 'x-axis-line');
  mk('line', {x1: 148, y1: 1793, x2: 148, y2: 2159, stroke: '#777', 'stroke-width': 1.6}, g, 'y-axis-line');
  fTickValues.forEach((v, i) => {
    mk('line', {x1: x(v), y1: 1788, x2: x(v), y2: 1793, stroke: '#999', 'stroke-width': 1.4}, g, 'x-tick');
    label(g, x(v) - 4 + (i === 0 ? 6 : 0), 1775, fTickLabels[i], 30, 'middle', 'x-tick-label');
  });
  [[fControl2h, fJitControl2h, yC(0)], [fOperon2h, fJitOperon2h, yO(0)], [fControl4h, fJitControl4h, yC(1)], [fOperon4h, fJitOperon4h, yO(1)]].forEach(s => {
    s[0].forEach((v, k) => {
      mk('ellipse', {cx: x(v), cy: s[2] + H / 2 + s[1][k] * H, rx: 4.6, ry: 6, fill: '#000'}, g, 'point');
    });
  });
})();

/* Panel G lanes */
(function () {
  const g = document.getElementById('gelLanes');
  const lanes = [[1040.6,1100,1783,.42,1853,1890,.62],[1124.8,1188.5,0,0,0,0,0],[1214,1277.5,0,0,0,0,0],[1303.7,1364,1769,.22,1853,1875,.42],[1393.5,1452,1769,.38,1853,1882,.72],[1482,1540.6,1766,.2,1853,1870,.36],[1569.6,1628,1766,.24,1853,1870,.4],[1659,1717.4,1766,.24,1853,1870,.4],[1748,1807,1769,.45,1844,1877,.78],[1836,1894,1764,.2,1853,1868,.36]];
  const defs = document.querySelector('defs');
  lanes.forEach((l, i) => {
    const w = l[1] - l[0];
    mk('rect', {x: l[0], y: 1739, width: w, height: (l[5] || 1880) - 1739, rx: 6, fill: 'url(#laneBody)', filter: 'url(#blur1)'}, g, 'lane-body');
    if (!l[2]) return;
    mk('rect', {x: l[0], y: l[2] - 7, width: w, height: 14, rx: 4, fill: '#000', 'fill-opacity': l[3], filter: 'url(#blur3)'}, g, 'upper-band');
    const grad = mk('linearGradient', {id: 'bandGrad' + i, x1: 0, y1: 0, x2: 0, y2: 1}, defs, 'band-gradient');
    mk('stop', {offset: 0, 'stop-color': '#000', 'stop-opacity': .06}, grad, 'band-gradient-start');
    mk('stop', {offset: .5, 'stop-color': '#000', 'stop-opacity': l[6] * .55}, grad, 'band-gradient-middle');
    mk('stop', {offset: 1, 'stop-color': '#000', 'stop-opacity': l[6]}, grad, 'band-gradient-end');
    mk('rect', {x: l[0], y: l[4], width: w, height: l[5] - l[4], rx: 6, fill: 'url(#bandGrad' + i + ')', filter: 'url(#blur1)'}, g, 'lower-band');
  });
})();
</script>
</body>
</html>
